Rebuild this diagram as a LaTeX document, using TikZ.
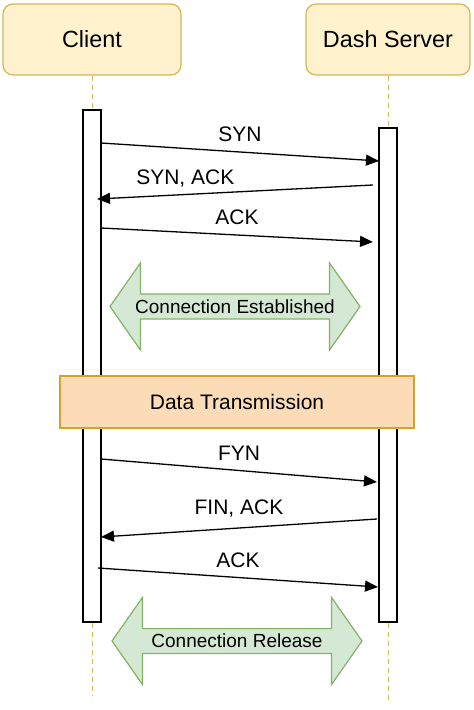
\documentclass[tikz,border=0pt]{standalone}
\usepackage{fontspec}
\setmainfont{Liberation Sans}
\usetikzlibrary{positioning,shapes.arrows,arrows.meta}

\definecolor{headfill}{HTML}{FFF2CC}
\definecolor{headline}{HTML}{D6B656}
\definecolor{phasefill}{HTML}{D5E8D4}
\definecolor{phaseline}{HTML}{82B366}
\definecolor{datafill}{HTML}{FBDCB6}
\definecolor{dataline}{HTML}{D9A030}

\tikzset{
	actor/.style={draw=headline, fill=headfill, rounded corners=5pt, minimum height=35.5pt, font=\fontsize{11.7}{14}\selectfont},
	bar/.style={draw, fill=white, minimum width=9pt, inner sep=0pt},
	life/.style={draw=headline, dash pattern=on 2.5pt off 2pt, line width=0.5pt},
	msg/.style={->, line width=0.65pt},
	lbl/.style={above=1.5pt, font=\fontsize{10.5}{12}\selectfont, text depth=0pt},
	phase/.style={double arrow, draw=phaseline, fill=phasefill, double arrow head extend=9.5pt, double arrow tip angle=110, minimum width=43.5pt, minimum height=125pt, inner sep=0pt, font=\fontsize{9.5}{12}\selectfont},
	datablock/.style={draw=dataline, fill=datafill, minimum width=177pt, minimum height=26pt, font=\fontsize{10.5}{12}\selectfont}
}

\begin{document}
\begin{tikzpicture}[x=0.5pt, y=0.5pt, line width=0.6pt, >={Triangle[length=6.5pt,width=5.5pt]}]
		\useasboundingbox (0,0) rectangle (474,-710);

		%the two participants
		\node[actor, minimum width=89pt] (client) at (92,-39.5) {Client};
		\node[actor, minimum width=82pt] (server) at (388,-39.5) {Dash Server};

		%activation bars and lifelines
		\node[bar, minimum height=256pt] (cbar) at (92,-366) {};
		\node[bar, minimum height=247pt] (sbar) at (388,-375) {};
		\coordinate (cend) at (92,-695);
		\coordinate (send) at (388,-700);
		\draw[life] (client) -- (cbar);
		\draw[life] (server) -- (sbar);
		\draw[life] (cbar) -- (cend);
		\draw[life] (sbar) -- (send);

		%connection setup
		\coordinate (syn c) at (101,-143);
		\coordinate (syn s) at (379,-161);
		\draw[msg] (syn c) -- node[lbl] {SYN} (syn s);
		\coordinate (synack s) at (373,-185);
		\coordinate (synack c) at (97,-199);
		\draw[msg] (synack s) -- node[lbl, pos=0.68] {SYN, ACK} (synack c);
		\coordinate (ack c) at (101,-228);
		\coordinate (ack s) at (373,-242);
		\draw[msg] (ack c) -- node[lbl] {ACK} (ack s);

		\node[phase] (est) at (235,-306.5) {Connection Established};

		%the data phase
		\node[datablock] (data) at (237,-402) {Data Transmission};

		%connection teardown
		\coordinate (fyn c) at (101,-459);
		\coordinate (fyn s) at (377,-482);
		\draw[msg] (fyn c) -- node[lbl] {FYN} (fyn s);
		\coordinate (finack s) at (377,-519);
		\coordinate (finack c) at (101,-537);
		\draw[msg] (finack s) -- node[lbl, above=3pt] {FIN, ACK} (finack c);
		\coordinate (last c) at (98,-568);
		\coordinate (last s) at (378,-587);
		\draw[msg] (last c) -- node[lbl] {ACK} (last s);

		\node[phase] (rel) at (237,-641) {Connection Release};

	\end{tikzpicture}
\end{document}
